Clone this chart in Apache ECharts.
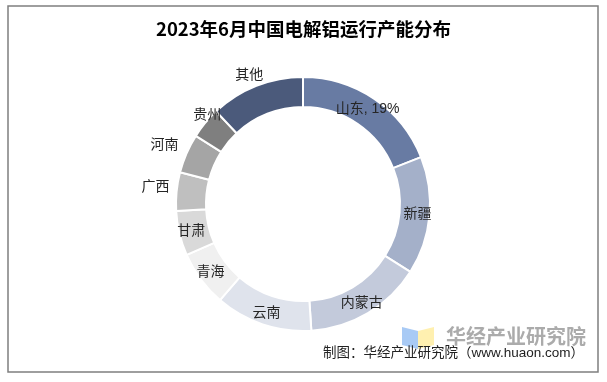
<!DOCTYPE html>
<html><head><meta charset="utf-8">
<script src="https://cdn.jsdelivr.net/npm/echarts@6/dist/echarts.min.js"></script>
<style>html,body{margin:0;padding:0;background:#fff}#c{width:607px;height:382px}</style>
</head><body><div id="c"></div>
<script>
const categories = ['山东','新疆','内蒙古','云南','青海','甘肃','广西','河南','贵州','其他'];
const values = [19, 15, 15, 12.4, 7.1, 5.7, 4.9, 5, 4, 12];
const colors = ['#687BA3','#A4B0C9','#C3CADB','#DFE3EC','#F0F0F0','#D9D9D9','#BFBFBF','#A5A5A5','#7F7F7F','#4B5A7B'];
const outsideLabels = { '广西': [-2,-4], '河南': [-3,-8], '贵州': [21,-8], '其他': [12,-11] };
const FONT = '"Liberation Sans", "Noto Sans CJK SC", sans-serif';

const chart = echarts.init(document.getElementById('c'), null, {renderer:'canvas'});
const data = categories.map((n,i) => {
  const item = { name: n, value: values[i], itemStyle: { color: colors[i] } };
  if (outsideLabels[n]) {
    item.label = { position: 'outside', offset: outsideLabels[n] };
    item.labelLine = { show: false, length: 0, length2: 0 };
  }
  return item;
});
chart.setOption({
  animation: false,
  title: {
    text: '2023年6月中国电解铝运行产能分布',
    left: 'center', top: 15,
    textStyle: { fontFamily: 'Noto Sans CJK SC', fontSize: 18.5, fontWeight: 'bold', color: '#000' }
  },
  graphic: [
    { type: 'rect', shape: { x: 8, y: 6, width: 590, height: 366 }, style: { fill: 'none', stroke: '#7f7f7f', lineWidth: 1.5 } },
    { type: 'polygon', shape: { points: [[402,327],[418,331],[418,349],[402,345]] }, style: { fill: '#A8CAF5' } },
    { type: 'polygon', shape: { points: [[418,331],[434,327],[434,345],[418,349]] }, style: { fill: '#FFF0B0' } },
    { type: 'text', left: 446, top: 326, style: { text: '华经产业研究院', fontFamily: 'Noto Sans CJK SC', fontSize: 20, fontWeight: 'bold', fill: '#ABABAB' } },
    { type: 'text', left: 323, top: 347, style: { text: '制图：华经产业研究院（www.huaon.com）', fontFamily: FONT, fontSize: 13.5, fill: '#222' } }
  ],
  series: [{
    type: 'pie',
    center: [303, 204],
    radius: [97, 127],
    startAngle: 90,
    clockwise: true,
    avoidLabelOverlap: false,
    itemStyle: { borderColor: '#fff', borderWidth: 2 },
    label: {
      show: true, position: 'inside',
      fontFamily: FONT, fontSize: 14, color: '#262626',
      formatter: p => p.name === '山东' ? p.name + ', ' + Math.round(p.percent) + '%' : p.name
    },
    emphasis: { disabled: true },
    data: data
  }]
});
</script></body></html>
